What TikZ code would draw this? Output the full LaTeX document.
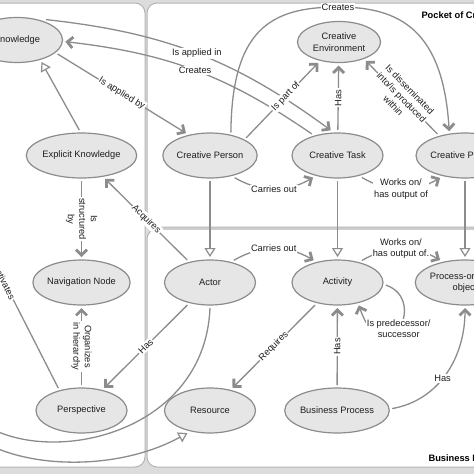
\documentclass[tikz,border=0pt]{standalone}
\usepackage{fontspec}
\setmainfont{Liberation Sans}
\usetikzlibrary{arrows.meta,shapes.geometric}

\definecolor{linegray}{HTML}{8C8C8C}
\definecolor{nodefill}{HTML}{E6E6E6}
\definecolor{panelgray}{HTML}{B4B4B4}
\definecolor{bandgray}{HTML}{DCDCDC}
\definecolor{txtgray}{HTML}{1E1E1E}

\newcommand{\dfont}{\fontsize{9.3}{11.5}\selectfont}

\begin{document}
\begin{tikzpicture}[x=1pt,y=-1pt,
  concept/.style={draw=linegray,line width=1.2pt,fill=nodefill,ellipse,
                  minimum width=91pt,minimum height=45pt,inner sep=0pt,
                  outer sep=3pt,align=center,font=\dfont,text=txtgray},
  rel/.style={draw=linegray,line width=1.3pt,
              -{Straight Barb[length=5.5pt,width=11pt,line width=2.8pt]}},
  isa/.style={draw=linegray,line width=1.3pt,
              -{Triangle[open,length=9pt,width=11pt,line width=1.2pt]}},
  plain/.style={draw=linegray,line width=1.3pt},
  lbl/.style={fill=white,inner sep=1pt,font=\dfont,text=txtgray,align=center},
  panel/.style={draw=panelgray,line width=1pt,fill=white,rounded corners=10pt},
  title/.style={font=\dfont\bfseries,text=black,anchor=west}]
  \useasboundingbox (0,0) rectangle (474,474);
  \clip (0,0) rectangle (474,474);
  \fill[bandgray] (0,0) rectangle (474,474);
  \draw[panel] (-30,3) rectangle (145,467);
  \draw[panel] (147,3) rectangle (510,227);
  \draw[panel] (147,229) rectangle (510,467);
  \node[title] (pockettitle) at (418,16) {Pocket of Creativity};
  \node[title] (bptitle) at (425,458) {Business Process};

  \node[concept] (kn) at (17,40) {Knowledge};
  \node[concept] (ek) at (81.5,155.5) {Explicit Knowledge};
  \node[concept] (cp) at (210,155.5) {Creative Person};
  \node[concept] (ct) at (337.5,155.5) {Creative Task};
  \node[concept] (cpr) at (465,155.5) {Creative Product};
  \node[concept,minimum width=83pt,minimum height=41pt] (ce) at (339,42) {Creative\\Environment};
  \node[concept] (nav) at (81.5,282.5) {Navigation Node};
  \node[concept] (actor) at (210,282.5) {Actor};
  \node[concept] (act) at (337.5,282.5) {Activity};
  \node[concept] (poo) at (465,282.5) {Process-oriented\\object};
  \node[concept] (persp) at (81.5,410.5) {Perspective};
  \node[concept] (res) at (210,410.5) {Resource};
  \node[concept] (bp) at (337,410.5) {Business Process};
  \coordinate (offA) at (-10,428);
  \coordinate (offB) at (-20,440);
  \coordinate (offC) at (-40,195);

  \draw[isa] (ek.95) -- (kn.-42);
  \draw[rel] (kn.-19) -- node[lbl,sloped] {Is applied by} (cp.137);
  \draw[rel] (kn.35) to[bend left=15] node[lbl] {Is applied in} (ct.105);
  \draw[rel] (ct.140) to[bend right=14] node[lbl] {Creates} (kn.-2);
  \draw[rel] (cp.48) .. controls (232,30) and (270,7) .. (338,7) node[lbl] {Creates}
    .. controls (400,7) and (443,30) .. (cpr.123);
  \draw[rel] (cp.26) -- node[lbl,sloped,pos=0.55] {Is part of} (ce.225);
  \draw[rel] (ct) -- node[lbl,rotate=90] {Has} (ce);
  \draw[rel] (cpr.142) -- node[lbl,sloped] {Is disseminated\\into/is produced\\within} (ce.-35);
  \draw[rel] (cp.-42) to[bend right=30] node[lbl] {Carries out} (ct.-138);
  \draw[rel] (ct.-42) to[bend right=30] node[lbl] {Works on/\\has output of} (cpr.-138);
  \draw[isa] (cp) -- (actor);
  \draw[isa] (ct) -- (act);
  \draw[isa] (cpr) -- (poo);
  \draw[rel] (actor) -- node[lbl,sloped] {Acquires} (ek);
  \draw[rel] (ek) -- node[lbl,rotate=-90] {Is\\structured\\by} (nav);
  \draw[rel] (persp) -- node[lbl,rotate=-90] {Organizes\\in hierarchy} (nav);
  \draw[rel] (actor) -- node[lbl,sloped] {Has} (persp);
  \draw[rel] (actor.43) to[bend left=30] node[lbl] {Carries out} (act.137);
  \draw[rel] (act.42) to[bend left=30] node[lbl] {Works on/\\has output of.} (poo.138);
  \draw[rel] (act) -- node[lbl,sloped] {Requires} (res);
  \draw[rel] (bp) -- node[lbl,rotate=90] {Has} (act);
  \draw[rel] (bp.2) to[out=10,in=-90] node[lbl,pos=0.45] {Has} (poo.south);
  \draw[rel] (act.-3) .. controls (430,300) and (385,380) .. node[lbl] {Is predecessor/\\successor} (act.-47);
  \draw[isa] (offB) .. controls (30,470) and (120,470) .. (res.-135);
  \draw[plain] (actor.south) .. controls (205,430) and (60,465) .. (offA);
  \draw[plain] (offC) -- node[lbl,sloped,pos=0.45] {Activates} (persp.136);
\end{tikzpicture}
\end{document}
